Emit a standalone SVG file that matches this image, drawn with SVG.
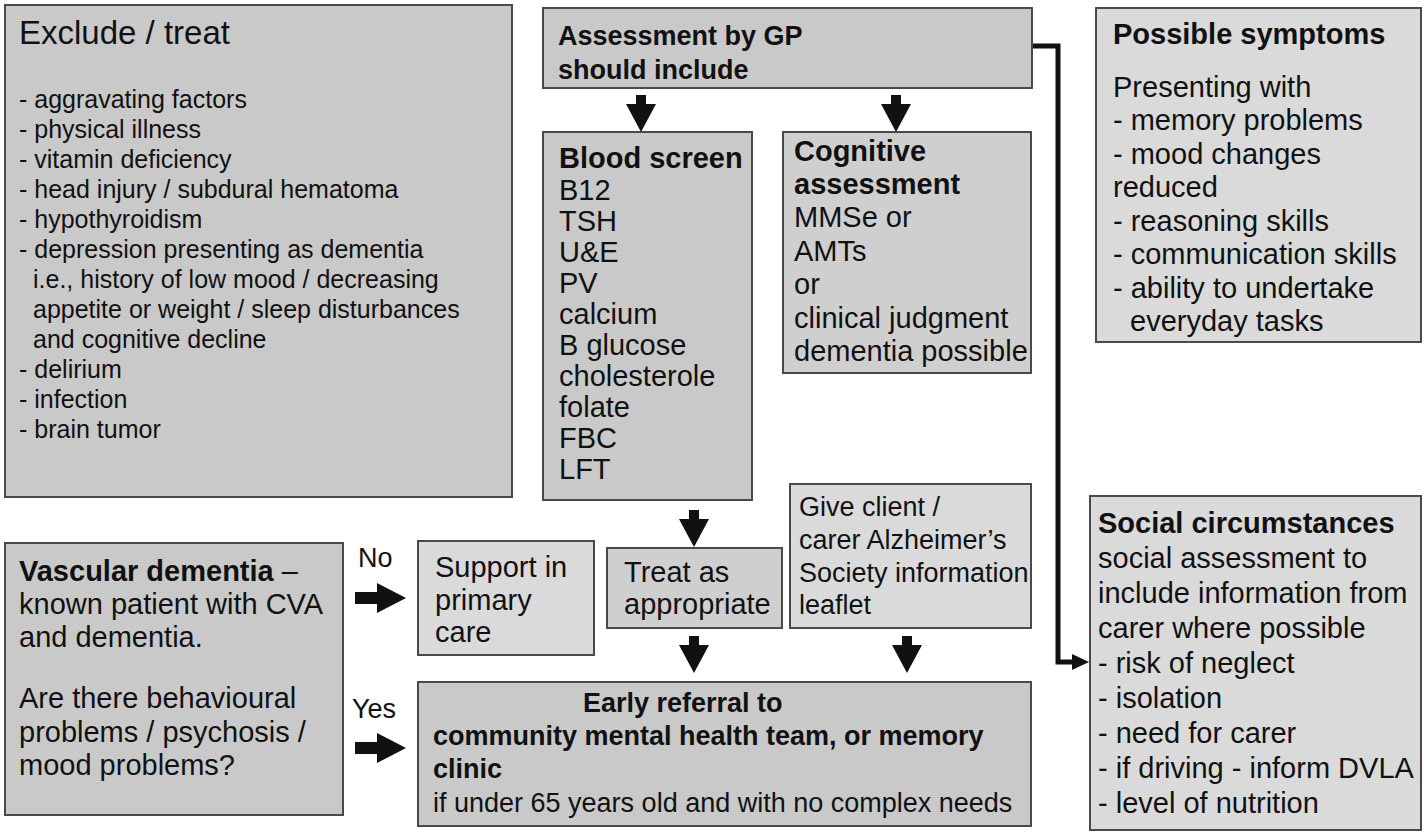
<svg xmlns="http://www.w3.org/2000/svg" xmlns:xlink="http://www.w3.org/1999/xlink" width="1426" height="836" viewBox="0 0 1426 836">
<style>
text{font-family:"Liberation Sans",Arial,Helvetica,sans-serif;fill:#111;}
.box{stroke:#4a4a4a;stroke-width:2;}
.dark{fill:#c9c9c9;}
.mid{fill:#cfcfcf;}
.light{fill:#dadada;}
.f25{font-size:25px;}
.f27{font-size:27px;}
.f29{font-size:29px;}
.f33{font-size:33px;}
.b{font-weight:bold;}
.arr{fill:#111;}
.conn{fill:none;stroke:#111;stroke-width:5;}
</style>
<defs>
<path id="dn" d="M-5,0 H5 V9 H15 L0,37 L-15,9 H-5 Z"/>
<path id="rt" d="M0,-6 H22 V-15 L51,0 L22,15 V6 H0 Z"/>
</defs>
<rect width="1426" height="836" fill="#ffffff"/>

<g id="exclude">
<rect class="box dark" x="5" y="5" width="507" height="492"/>
<text class="f33" x="19" y="44">Exclude / treat</text>
<text class="f25" x="19" y="108">- aggravating factors</text>
<text class="f25" x="19" y="138">- physical illness</text>
<text class="f25" x="19" y="168">- vitamin deficiency</text>
<text class="f25" x="19" y="198">- head injury / subdural hematoma</text>
<text class="f25" x="19" y="228">- hypothyroidism</text>
<text class="f25" x="19" y="258">- depression presenting as dementia</text>
<text class="f25" x="33" y="288">i.e., history of low mood / decreasing</text>
<text class="f25" x="33" y="318">appetite or weight / sleep disturbances</text>
<text class="f25" x="33" y="348">and cognitive decline</text>
<text class="f25" x="19" y="378">- delirium</text>
<text class="f25" x="19" y="408">- infection</text>
<text class="f25" x="19" y="438">- brain tumor</text>
</g>

<g id="assessment">
<rect class="box dark" x="543" y="8" width="489" height="80"/>
<text class="f27 b" x="558" y="45">Assessment by GP</text>
<text class="f27 b" x="558" y="79">should include</text>
</g>

<g id="symptoms">
<rect class="box light" x="1096" y="8" width="325" height="334"/>
<text class="f29 b" x="1113" y="44">Possible symptoms</text>
<text class="f29" x="1113" y="97">Presenting with</text>
<text class="f29" x="1113" y="130">- memory problems</text>
<text class="f29" x="1113" y="164">- mood changes</text>
<text class="f29" x="1113" y="197">reduced</text>
<text class="f29" x="1113" y="231">- reasoning skills</text>
<text class="f29" x="1113" y="264">- communication skills</text>
<text class="f29" x="1113" y="298">- ability to undertake</text>
<text class="f29" x="1130" y="331">everyday tasks</text>
</g>

<g id="blood">
<rect class="box dark" x="543" y="132" width="209" height="368"/>
<text class="f29 b" x="559" y="168">Blood screen</text>
<text class="f29" x="559" y="200">B12</text>
<text class="f29" x="559" y="231">TSH</text>
<text class="f29" x="559" y="262">U&amp;E</text>
<text class="f29" x="559" y="293">PV</text>
<text class="f29" x="559" y="324">calcium</text>
<text class="f29" x="559" y="355">B glucose</text>
<text class="f29" x="559" y="386">cholesterole</text>
<text class="f29" x="559" y="417">folate</text>
<text class="f29" x="559" y="448">FBC</text>
<text class="f29" x="559" y="479">LFT</text>
</g>

<g id="cognitive">
<rect class="box mid" x="783" y="132" width="248" height="241"/>
<text class="f29 b" x="794" y="161">Cognitive</text>
<text class="f29 b" x="794" y="194">assessment</text>
<text class="f29" x="794" y="227">MMSe or</text>
<text class="f29" x="794" y="261">AMTs</text>
<text class="f29" x="794" y="294">or</text>
<text class="f29" x="794" y="328">clinical judgment</text>
<text class="f29" x="794" y="361">dementia possible</text>
</g>

<g id="vascular">
<rect class="box dark" x="5" y="543" width="338" height="272"/>
<text class="f29" x="19" y="581"><tspan class="b">Vascular dementia</tspan> –</text>
<text class="f29" x="19" y="614">known patient with CVA</text>
<text class="f29" x="19" y="647">and dementia.</text>
<text class="f29" x="19" y="708">Are there behavioural</text>
<text class="f29" x="19" y="742">problems / psychosis /</text>
<text class="f29" x="19" y="775">mood problems?</text>
</g>

<g id="support">
<rect class="box light" x="418" y="541" width="176" height="114"/>
<text class="f29" x="435" y="577">Support in</text>
<text class="f29" x="435" y="610">primary</text>
<text class="f29" x="435" y="642">care</text>
</g>

<g id="treat">
<rect class="box mid" x="607" y="548" width="175" height="80"/>
<text class="f29" x="624" y="582">Treat as</text>
<text class="f29" x="624" y="614">appropriate</text>
</g>

<g id="leaflet">
<rect class="box light" x="790" y="484" width="241" height="144"/>
<text class="f27" x="799" y="516">Give client /</text>
<text class="f27" x="799" y="549">carer Alzheimer’s</text>
<text class="f27" x="799" y="582">Society information</text>
<text class="f27" x="799" y="614">leaflet</text>
</g>

<g id="referral">
<rect class="box dark" x="418" y="682" width="613" height="144"/>
<text class="f27 b" x="583" y="712">Early referral to</text>
<text class="f27 b" x="433" y="745">community mental health team, or memory</text>
<text class="f27 b" x="433" y="778">clinic</text>
<text class="f27" x="433" y="812">if under 65 years old and with no complex needs</text>
</g>

<g id="social">
<rect class="box light" x="1090" y="496" width="331" height="334"/>
<text class="f29 b" x="1098" y="533">Social circumstances</text>
<text class="f29" x="1098" y="568">social assessment to</text>
<text class="f29" x="1098" y="603">include information from</text>
<text class="f29" x="1098" y="638">carer where possible</text>
<text class="f29" x="1098" y="673">- risk of neglect</text>
<text class="f29" x="1098" y="708">- isolation</text>
<text class="f29" x="1098" y="743">- need for carer</text>
<text class="f29" x="1098" y="778">- if driving - inform DVLA</text>
<text class="f29" x="1098" y="813">- level of nutrition</text>
</g>

<g id="connectors">
<use class="arr" xlink:href="#dn" href="#dn" transform="translate(641,95)"/>
<use class="arr" xlink:href="#dn" href="#dn" transform="translate(896,95)"/>
<use class="arr" xlink:href="#dn" href="#dn" transform="translate(694,510)"/>
<use class="arr" xlink:href="#dn" href="#dn" transform="translate(694,636)"/>
<use class="arr" xlink:href="#dn" href="#dn" transform="translate(907,636)"/>
<use class="arr" xlink:href="#rt" href="#rt" transform="translate(355,598)"/>
<use class="arr" xlink:href="#rt" href="#rt" transform="translate(355,748)"/>
<polyline class="conn" points="1033,46 1058,46 1058,662 1074,662"/>
<path class="arr" d="M1072,654 L1089,662 L1072,670 Z"/>
<text class="f27" x="358" y="567">No</text>
<text class="f27" x="352" y="718">Yes</text>
</g>
</svg>
